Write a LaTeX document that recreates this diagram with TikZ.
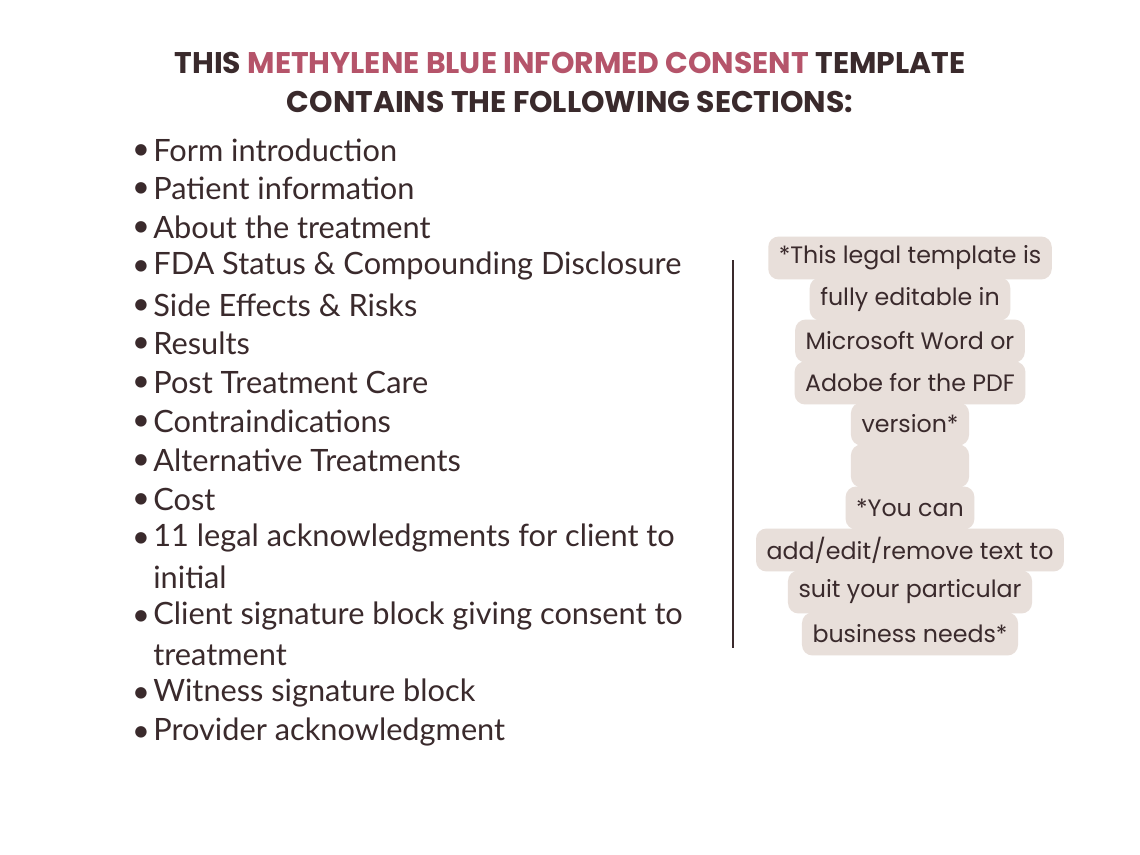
\documentclass[tikz,border=0pt]{standalone}
\usepackage{fontspec}
\setmainfont{Lato}
\newfontfamily\titlefont{Poppins}
\usetikzlibrary{positioning}
\definecolor{ink}{HTML}{3A2A2C}
\definecolor{rose}{HTML}{B5546A}
\definecolor{sand}{HTML}{E8DFDA}
\tikzset{
  heading/.style={font=\titlefont\bfseries\fontsize{17}{20}\selectfont, text=ink, anchor=center},
  item/.style={font=\fontsize{17.5}{20}\selectfont, text=ink, anchor=west, inner sep=0pt},
  note/.style={font=\titlefont\fontsize{13.5}{16}\selectfont, text=ink, fill=sand,
    rounded corners=6pt, minimum height=0.86cm, inner xsep=6pt, inner ysep=0pt, anchor=center}
}
\begin{document}
\begin{tikzpicture}[x=0.02cm, y=-0.02cm]
\useasboundingbox[fill=white] (0,0) rectangle (1140,855);

%naslov
\node[heading] (title1) at (570,63) {THIS \textcolor{rose}{METHYLENE BLUE INFORMED CONSENT} TEMPLATE};
\node[heading] (title2) at (570,102) {CONTAINS THE FOLLOWING SECTIONS:};

%popis
\foreach \y/\t [count=\i] in {150/Form introduction/explanation, 188/Patient information,
  227/About the treatment, 266/FDA Status \& Compounding Disclosure, 305/Side Effects \& Risks,
  343/Results, 382/Post Treatment Care, 421/Contraindications, 460/Alternative Treatments,
  499/Cost, 538/11 legal acknowledgments for client to, 616/Client signature block giving consent to,
  693/Witness signature block, 732/Provider acknowledgment}
{
  \node[item] (item\i) at (153,\y) {\t};
  \node[item, anchor=center] (dot\i) at (141,\y+2) {\textbullet};
}
\node[item] (cont1) at (153,577) {initial};
\node[item] (cont2) at (153,655) {treatment};

%crta
\coordinate (top) at (733,260);
\coordinate (bot) at (733,648);
\draw[ink, line width=1pt] (top) -- (bot);

%napomena
\node[note] (gap) at (910,466) {\phantom{version*}};
\node[note] (n1) at (910,258) {*This legal template is};
\node[note] (n2) at (910,299) {fully editable in};
\node[note] (n3) at (910,341) {Microsoft Word or};
\node[note] (n4) at (910,383) {Adobe for the PDF};
\node[note] (n5) at (910,424) {version*};
\node[note] (n6) at (910,508) {*You can};
\node[note] (n7) at (910,550) {add/edit/remove text to};
\node[note] (n8) at (910,592) {suit your particular};
\node[note] (n9) at (910,634) {business needs*};
\end{tikzpicture}
\end{document}
